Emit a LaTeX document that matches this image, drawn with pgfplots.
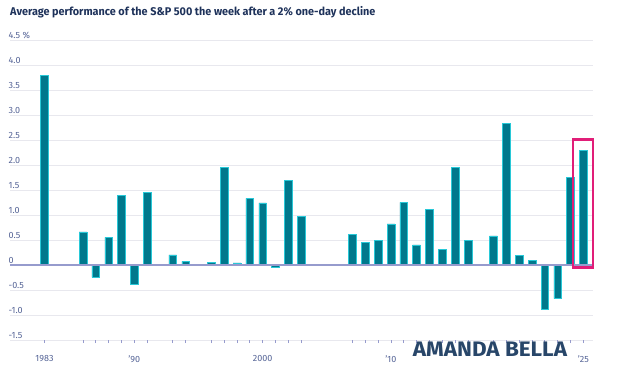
\documentclass[border=0pt]{standalone}
\usepackage{fontspec}
\setmainfont{Fira Sans}
\usepackage{pgfplots}
\pgfplotsset{compat=1.18}
\definecolor{titlec}{RGB}{30,50,90}
\definecolor{tickc}{RGB}{85,100,150}
\definecolor{gridc}{RGB}{232,232,238}
\definecolor{zeroc}{RGB}{150,155,205}
\definecolor{barc}{RGB}{0,120,140}
\definecolor{bare}{RGB}{40,200,215}
\definecolor{pinkc}{RGB}{225,30,120}
\definecolor{wmc}{RGB}{40,70,105}
\pgfplotstableread{
year val
1983 3.79
1986 0.66
1987 -0.25
1988 0.55
1989 1.39
1990 -0.39
1991 1.45
1993 0.20
1994 0.07
1996 0.05
1997 1.95
1998 0.04
1999 1.33
2000 1.24
2001 -0.05
2002 1.69
2003 0.97
2007 0.61
2008 0.45
2009 0.49
2010 0.82
2011 1.25
2012 0.40
2013 1.11
2014 0.31
2015 1.95
2016 0.49
2018 0.58
2019 2.83
2020 0.19
2021 0.09
2022 -0.89
2023 -0.67
2024 1.75
2025 2.29
}\datatable
\begin{document}
\begin{tikzpicture}
\path[use as bounding box] (0,0) rectangle (624pt,367pt);
\node[anchor=west, text=titlec, font=\bfseries\fontsize{11.2}{13}\selectfont, xscale=0.97, inner sep=0pt] at (10pt,355pt) {Average performance of the S\&P 500 the week after a 2\% one-day decline};
\begin{axis}[
  at={(10pt,27pt)}, anchor=south west,
  scale only axis, width=583pt, height=300pt,
  xmin=1980.31, xmax=2025.75, ymin=-1.5, ymax=4.5,
  clip=false,
  axis line style={draw=none},
  ymajorgrids, grid style={gridc, line width=0.8pt},
  ytick={-1.5,-1,-0.5,0,0.5,1,1.5,2,2.5,3,3.5,4,4.5},
  yticklabels={-1.5,-1.0,-0.5,0,0.5,1.0,1.5,2.0,2.5,3.0,3.5,4.0,4.5 \%},
  yticklabel style={anchor=south west, inner sep=1.5pt, xshift=0pt, font=\fontsize{9}{10}\selectfont, text=tickc},
  ytick style={draw=none},
  xtick={1983,1990,2000,2010,2025},
  xticklabels={1983,'90,2000,'10,'25},
  extra x ticks={1986,1987,1988,1989,1991,1993,1994,1996,1997,1998,1999,2001,2002,2003,2007,2008,2009,2011,2012,2013,2014,2015,2016,2018,2019,2020,2021,2022,2023,2024},
  extra x tick labels={},
  xticklabel style={font=\fontsize{9}{10}\selectfont, text=tickc, yshift=-9pt},
  tick align=outside, xtick pos=bottom,
  major tick length=3pt,
  xtick style={draw=zeroc, line width=0.8pt},
  extra x tick style={xtick style={draw=zeroc, line width=0.8pt}},
]
\addplot[ybar, bar width=7.7pt, fill=barc, draw=bare, line width=0.5pt] table[x=year, y=val] {\datatable};
\draw[zeroc, line width=1.3pt] (axis cs:1980.31,0) -- (axis cs:2025.75,0);
\draw[pinkc, line width=2.2pt] (axis cs:2024.22,-0.05) rectangle (axis cs:2025.78,2.51);
\end{axis}
\node[text=wmc, font=\bfseries\fontsize{21}{22}\selectfont, xscale=1.07, inner sep=0pt] at (490pt,18pt) {AMANDA BELLA};
\end{tikzpicture}
\end{document}
